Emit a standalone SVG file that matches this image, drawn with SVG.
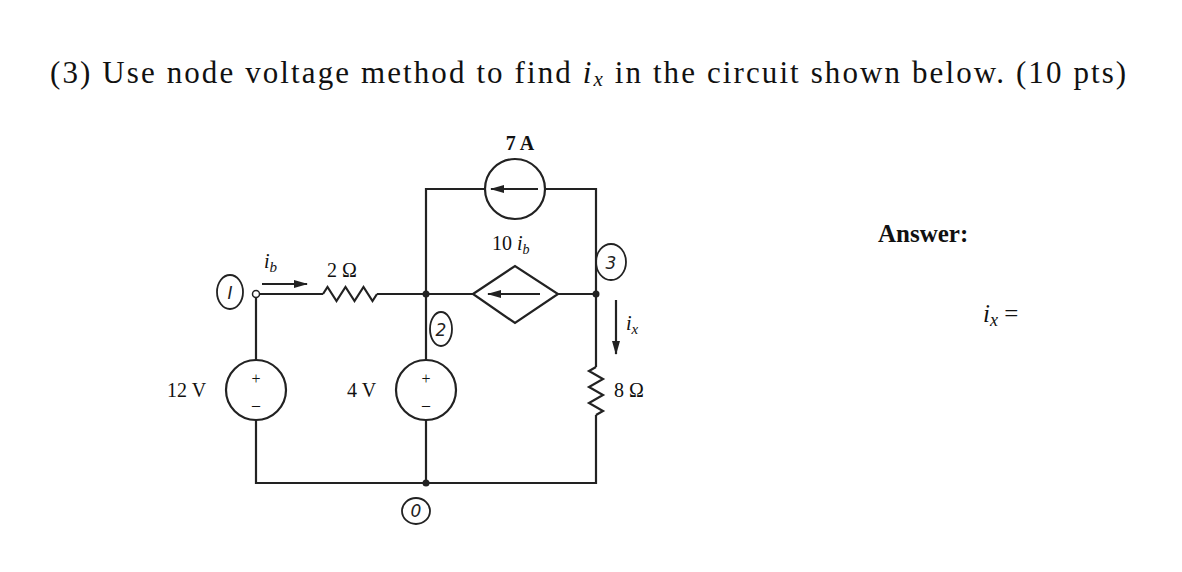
<svg xmlns="http://www.w3.org/2000/svg" width="1182" height="572" viewBox="0 0 1182 572">
<style>
.w{stroke:#222;stroke-width:2.2;fill:none}
.t{font-family:"Liberation Serif",serif;fill:#111}
.h{stroke:#222;stroke-width:1.8;fill:none}
.ht{font-family:"DejaVu Sans",sans-serif;font-style:italic;fill:#222;font-size:17px}
</style>
<defs><marker id="a" markerWidth="14" markerHeight="8" refX="13" refY="4" orient="auto" markerUnits="userSpaceOnUse"><path d="M0,0 L14,4 L0,8 z" fill="#222"/></marker></defs>
<rect width="1182" height="572" fill="#fff"/>
<text class="t" x="50" y="83" font-size="31" letter-spacing="2.1">(3) Use node voltage method to find <tspan font-style="italic">i</tspan><tspan font-style="italic" font-size="21" dy="3">x</tspan><tspan dy="-3"> in the circuit shown below. (10 pts)</tspan></text>
<g id="connectors">
<path class="w" d="M256,294 H323 M377,294 H473 M558,294 H596 M256,294 V360 M256,420 V483 H596 V415 M596,367 V294 V189 H545 M485,189 H426 V360 M426,420 V483"/>
<path class="w" d="M323,294 l4.5,-7 l9,14 l9,-14 l9,14 l9,-14 l9,14 l4.5,-7"/>
<path class="w" d="M596,367 l-7,4 l14,8 l-14,8 l14,8 l-14,8 l14,8 l-7,4"/>
<line class="w" x1="262" y1="284" x2="307" y2="284" marker-end="url(#a)"/>
<line class="w" x1="616" y1="300" x2="616" y2="354" marker-end="url(#a)"/>
<circle cx="426" cy="294" r="3.5" fill="#222"/><circle cx="596" cy="294" r="3.5" fill="#222"/><circle cx="426" cy="483" r="3.5" fill="#222"/>
<circle cx="256" cy="294" r="3.5" fill="#fff" stroke="#222" stroke-width="1.5"/>
</g>
<g id="src7A"><circle class="w" cx="515" cy="189" r="30" fill="#fff"/><line class="w" x1="538" y1="189" x2="491" y2="189" marker-end="url(#a)"/><text class="t" x="520" y="150" font-size="20" text-anchor="middle" font-weight="bold">7 A</text></g>
<g id="dep"><path class="w" d="M473,294 L515,266 L558,294 L515,323 z"/><line class="w" x1="540" y1="294" x2="488" y2="294" marker-end="url(#a)"/><text class="t" x="492" y="250" font-size="20">10 <tspan font-style="italic">i</tspan><tspan font-style="italic" font-size="14" dy="4">b</tspan></text></g>
<g id="r2"><text class="t" x="327" y="277" font-size="20">2 Ω</text><text class="t" x="264" y="268" font-size="20" font-style="italic">i<tspan font-size="15" dy="4">b</tspan></text></g>
<g id="v12"><circle class="w" cx="256" cy="390" r="30"/><text class="t" x="256" y="384" font-size="16" text-anchor="middle">+</text><text class="t" x="256" y="410" font-size="16" text-anchor="middle">–</text><text class="t" x="167" y="397" font-size="20">12 V</text></g>
<g id="v4"><circle class="w" cx="426" cy="390" r="30"/><text class="t" x="426" y="384" font-size="16" text-anchor="middle">+</text><text class="t" x="426" y="410" font-size="16" text-anchor="middle">–</text><text class="t" x="347" y="397" font-size="20">4 V</text></g>
<g id="r8"><text class="t" x="614" y="397" font-size="20">8 Ω</text><text class="t" x="626" y="330" font-size="20" font-style="italic">i<tspan font-size="15" dy="4">x</tspan></text></g>
<g id="n1"><ellipse class="h" cx="230" cy="292" rx="13" ry="17"/><text class="ht" x="230" y="299" text-anchor="middle">I</text></g>
<g id="n2"><ellipse class="h" cx="441" cy="329" rx="11" ry="17"/><text class="ht" x="441" y="336" text-anchor="middle">2</text></g>
<g id="n3"><ellipse class="h" cx="611" cy="262" rx="15" ry="18"/><text class="ht" x="611" y="269" text-anchor="middle">3</text></g>
<g id="n0"><ellipse class="h" cx="416" cy="511" rx="14" ry="13"/><text class="ht" x="416" y="517" text-anchor="middle">0</text></g>
<text class="t" x="878" y="242" font-size="25" font-weight="bold">Answer:</text>
<text class="t" x="983" y="322" font-size="25" font-style="italic">i<tspan font-size="18" dy="4">x</tspan><tspan dy="-4" font-style="normal"> =</tspan></text>
</svg>
